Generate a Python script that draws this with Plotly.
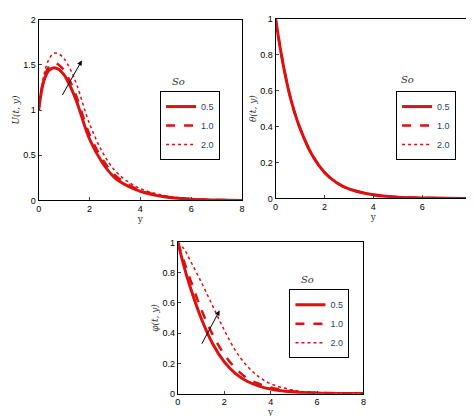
import plotly.graph_objects as go

so_labels = ["0.5", "1.0", "2.0"]
dashes = ["solid", "dash", "dot"]
widths = [3, 2.5, 1.5]

y_u = [0, 0.2, 0.4, 0.6, 0.8, 1.0, 1.25, 1.5, 2.0, 2.5, 3.0, 3.5, 4.0, 5.0, 6.0, 7.0, 8.0]
u_05 = [1.0, 1.32, 1.44, 1.47, 1.45, 1.39, 1.26, 1.09, 0.68, 0.42, 0.25, 0.16, 0.10, 0.037, 0.013, 0.004, 0.0]
u_10 = [1.0, 1.34, 1.48, 1.52, 1.50, 1.44, 1.31, 1.14, 0.73, 0.46, 0.28, 0.18, 0.11, 0.042, 0.015, 0.005, 0.0]
u_20 = [1.0, 1.38, 1.56, 1.63, 1.62, 1.57, 1.45, 1.28, 0.85, 0.54, 0.33, 0.21, 0.13, 0.05, 0.018, 0.006, 0.0]

y_t = [0, 0.25, 0.5, 0.75, 1.0, 1.5, 2.0, 2.5, 3.0, 4.0, 5.0, 6.0, 7.0, 8.0]
theta = [1.0, 0.79, 0.62, 0.49, 0.39, 0.24, 0.145, 0.088, 0.053, 0.02, 0.007, 0.003, 0.001, 0.0]

y_p = [0, 0.25, 0.5, 1.0, 1.5, 2.0, 2.5, 3.0, 3.5, 4.0, 5.0, 6.0, 7.0, 8.0]
phi_05 = [1.0, 0.85, 0.72, 0.50, 0.33, 0.21, 0.13, 0.08, 0.05, 0.03, 0.01, 0.004, 0.001, 0.0]
phi_10 = [1.0, 0.88, 0.77, 0.56, 0.39, 0.26, 0.165, 0.10, 0.065, 0.04, 0.014, 0.005, 0.001, 0.0]
phi_20 = [1.0, 0.96, 0.89, 0.74, 0.58, 0.42, 0.28, 0.18, 0.11, 0.065, 0.022, 0.007, 0.002, 0.0]

RED = "#dd1111"
fig = go.Figure()

for vals, lab, d, w in zip([u_05, u_10, u_20], so_labels, dashes, widths):
    fig.add_trace(go.Scatter(x=y_u, y=vals, name=lab, mode="lines", line_shape="spline",
                             line=dict(color=RED, dash=d, width=w), xaxis="x", yaxis="y", legend="legend"))
for lab, d, w in zip(so_labels, dashes, widths):
    fig.add_trace(go.Scatter(x=y_t, y=theta, name=lab, mode="lines", line_shape="spline",
                             line=dict(color=RED, dash=d, width=w), xaxis="x2", yaxis="y2", legend="legend2"))
for vals, lab, d, w in zip([phi_05, phi_10, phi_20], so_labels, dashes, widths):
    fig.add_trace(go.Scatter(x=y_p, y=vals, name=lab, mode="lines", line_shape="spline",
                             line=dict(color=RED, dash=d, width=w), xaxis="x3", yaxis="y3", legend="legend3"))

W, H = 474, 416
def fx(p): return p / W
def fy(p): return 1 - p / H

ax_common = dict(showgrid=False, zeroline=False, mirror=True, showline=True, linecolor="black",
                 linewidth=1, ticks="inside", ticklen=3, tickfont=dict(size=9, color="black", family="Arial"))
tfont = dict(family="DejaVu Serif", size=9, color="#333")

lay = dict(
    width=W, height=H, margin=dict(l=0, r=0, t=0, b=0), plot_bgcolor="white", paper_bgcolor="white",
    xaxis=dict(domain=[fx(28), fx(234)], range=[0, 8], dtick=2, anchor="y",
               title=dict(text="y", font=tfont, standoff=0), **ax_common),
    yaxis=dict(domain=[fy(192), fy(7)], range=[0, 2], dtick=0.5, anchor="x",
               title=dict(text="<i>U(t, y)</i>", font=tfont, standoff=2), **ax_common),
    xaxis2=dict(domain=[fx(268), fx(466)], range=[0, 8], dtick=2, anchor="y2",
                title=dict(text="y", font=tfont, standoff=0), **ax_common),
    yaxis2=dict(domain=[fy(190), fy(6)], range=[0, 1], dtick=0.2, anchor="x2",
                title=dict(text="<i>θ(t, y)</i>", font=tfont, standoff=2), **ax_common),
    xaxis3=dict(domain=[fx(169), fx(357)], range=[0, 8], dtick=2, anchor="y3",
                title=dict(text="y", font=tfont, standoff=0), **ax_common),
    yaxis3=dict(domain=[fy(390), fy(235)], range=[0, 1], dtick=0.2, anchor="x3",
                title=dict(text="<i>φ(t, y)</i>", font=tfont, standoff=2), **ax_common),
    showlegend=True,
)
leg = dict(bgcolor="white", bordercolor="black", borderwidth=1, font=dict(size=9, family="Arial"),
           tracegroupgap=0, itemwidth=30, xanchor="left", yanchor="top")
lay["legend"] = dict(x=fx(151), y=fy(80), **leg)
lay["legend2"] = dict(x=fx(390), y=fy(80), **leg)
lay["legend3"] = dict(x=fx(282), y=fy(283), **leg)
fig.update_layout(**lay)

for x, y in [(170, 70), (410, 68), (300, 273)]:
    fig.add_annotation(x=fx(x), y=fy(y), xref="paper", yref="paper", text="<i>So</i>", showarrow=False,
                       yanchor="middle", font=dict(family="DejaVu Serif", size=10, color="#333"))

fig.add_annotation(x=1.7, y=1.55, ax=0.9, ay=1.15, xref="x", yref="y", axref="x", ayref="y",
                   showarrow=True, arrowhead=2, arrowwidth=1, arrowcolor="black", text="")
fig.add_annotation(x=1.8, y=0.55, ax=1.0, ay=0.32, xref="x3", yref="y3", axref="x3", ayref="y3",
                   showarrow=True, arrowhead=2, arrowwidth=1, arrowcolor="black", text="")

fig.write_html("out.html")
